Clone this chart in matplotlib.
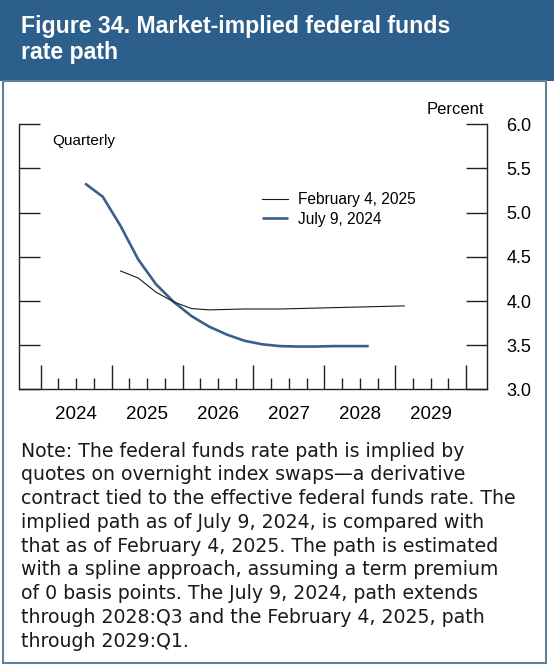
import matplotlib
matplotlib.use('Agg')
import matplotlib.pyplot as plt
from matplotlib.patches import Rectangle

W, H = 554, 668
HEADER = '#2d5f8c'
BORDER = '#5f8195'
BLUE = '#3b5f8a'

CHART_FONT = ['Liberation Sans Narrow', 'Liberation Sans', 'DejaVu Sans']
NOTE_FONT = ['DejaVu Sans']

# quarterly market-implied path, percent
july_quarters = ['2024:Q3', '2024:Q4', '2025:Q1', '2025:Q2', '2025:Q3', '2025:Q4',
                 '2026:Q1', '2026:Q2', '2026:Q3', '2026:Q4', '2027:Q1', '2027:Q2',
                 '2027:Q3', '2027:Q4', '2028:Q1', '2028:Q2', '2028:Q3']
july_values = [5.33, 5.18, 4.85, 4.47, 4.19, 3.99, 3.83, 3.71, 3.62, 3.55, 3.51, 3.49,
               3.485, 3.485, 3.49, 3.49, 3.49]

feb_quarters = ['2025:Q1', '2025:Q2', '2025:Q3', '2025:Q4', '2026:Q1', '2026:Q2',
                '2026:Q3', '2026:Q4', '2027:Q1', '2027:Q2', '2027:Q3', '2027:Q4',
                '2028:Q1', '2028:Q2', '2028:Q3', '2028:Q4', '2029:Q1']
feb_values = [4.34, 4.26, 4.10, 3.99, 3.915, 3.90, 3.905, 3.91, 3.91, 3.91, 3.915, 3.92,
              3.925, 3.93, 3.935, 3.94, 3.945]

years = [2024, 2025, 2026, 2027, 2028, 2029]
y_ticks = [3.0, 3.5, 4.0, 4.5, 5.0, 5.5, 6.0]

note_lines = [
    'Note: The federal funds rate path is implied by',
    'quotes on overnight index swaps\u2014a derivative',
    'contract tied to the effective federal funds rate. The',
    'implied path as of July 9, 2024, is compared with',
    'that as of February 4, 2025. The path is estimated',
    'with a spline approach, assuming a term premium',
    'of 0 basis points. The July 9, 2024, path extends',
    'through 2028:Q3 and the February 4, 2025, path',
    'through 2029:Q1.',
]


def quarter_to_x(label):
    # plot each quarter at its midpoint
    yr, q = label.split(':Q')
    return int(yr) + (int(q) - 0.5) / 4


def fx(px):
    return px / W


def fy(py):
    return 1 - py / H


fig = plt.figure(figsize=(W / 100, H / 100), dpi=100)

# header band and box outline
fig.patches.append(Rectangle((0, fy(81)), 1, 81 / H, transform=fig.transFigure,
                             facecolor=HEADER, edgecolor='none', zorder=0))
fig.patches.append(Rectangle((fx(3), fy(663)), (546 - 3) / W, (663 - 81) / H,
                             transform=fig.transFigure, fill=False,
                             edgecolor=BORDER, linewidth=1.5, zorder=0))

fig.text(fx(21), fy(32.5), 'Figure 34. Market-implied federal funds', color='white',
         fontsize=16.7, fontweight='bold', family=CHART_FONT, va='baseline')
fig.text(fx(21), fy(58.5), 'rate path', color='white',
         fontsize=16.7, fontweight='bold', family=CHART_FONT, va='baseline')

ax = fig.add_axes([fx(19), fy(389.4), (487 - 19) / W, (389.4 - 124.3) / H])

ax.plot([quarter_to_x(q) for q in july_quarters], july_values, color=BLUE,
        linewidth=1.9, label='July 9, 2024', solid_capstyle='butt')
ax.plot([quarter_to_x(q) for q in feb_quarters], feb_values, color='#1a1a1a',
        linewidth=0.8, label='February 4, 2025')

ax.set_xlim(2023.693, 2030.293)
ax.set_ylim(3.0, 6.0)

ax.spines['top'].set_visible(False)
for s in ['left', 'right', 'bottom']:
    ax.spines[s].set_linewidth(1.0)
    ax.spines[s].set_color('#222222')

ax.set_yticks(y_ticks)
ax.set_yticklabels(['%.1f' % v for v in y_ticks])
ax.yaxis.set_ticks_position('both')
ax.tick_params(axis='y', direction='in', length=15, width=1.0, color='#222222',
               labelleft=False, labelright=True, pad=14, labelsize=13)
for lab in ax.get_yticklabels():
    lab.set_family(CHART_FONT)

ax.set_xticks([y for y in years] + [years[-1] + 1])
ax.set_xticks([y + q / 4 for y in years for q in (1, 2, 3)], minor=True)
ax.tick_params(axis='x', which='major', direction='in', length=17, width=1.0,
               color='#222222', labelbottom=False)
ax.tick_params(axis='x', which='minor', direction='in', length=8, width=1.0,
               color='#222222')
for y in years:
    ax.text(y + 0.5, -0.095, str(y), transform=ax.get_xaxis_transform(),
            ha='center', va='center', fontsize=13.5, family=CHART_FONT)

leg = ax.legend(handles=ax.get_lines()[::-1], loc='upper left',
                bbox_to_anchor=(fx(262), fy(192)), bbox_transform=fig.transFigure,
                frameon=False, handlelength=1.7, handletextpad=0.6,
                labelspacing=0.3, borderpad=0, borderaxespad=0,
                prop={'family': CHART_FONT, 'size': 11.2})

fig.text(fx(52), fy(141), 'Quarterly', fontsize=11, family=CHART_FONT,
         ha='left', va='center')
fig.text(fx(484), fy(110), 'Percent', fontsize=12, family=CHART_FONT,
         ha='right', va='center')

for i, line in enumerate(note_lines):
    fig.text(fx(21), fy(456.7 + 23.75 * i), line, fontsize=13.6, family=NOTE_FONT,
             va='baseline', color='#1a1a1a')

fig.savefig('out.png', dpi=100)
